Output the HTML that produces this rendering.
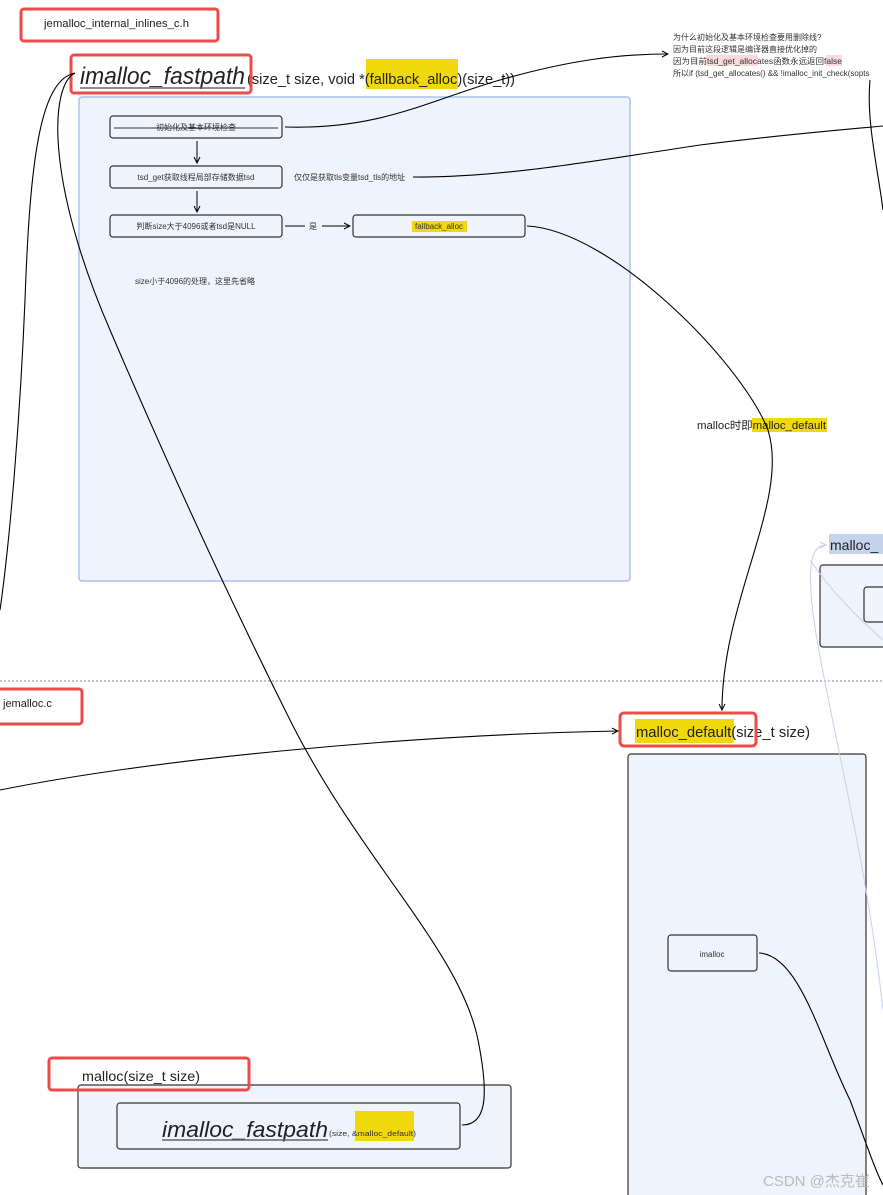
<!DOCTYPE html>
<html><head><meta charset="utf-8"><style>
html,body{margin:0;padding:0;background:#fff;}
svg{display:block;font-family:"Liberation Sans","Noto Sans CJK SC",sans-serif;}
</style></head><body>
<svg width="883" height="1195" viewBox="0 0 883 1195" xmlns="http://www.w3.org/2000/svg">
<defs>
<marker id="a" markerWidth="8" markerHeight="8" refX="7" refY="4" orient="auto" markerUnits="userSpaceOnUse"><path d="M1,1 L7,4 L1,7" fill="none" stroke="#000" stroke-width="1"/></marker>
<marker id="b" markerWidth="8" markerHeight="8" refX="7" refY="4" orient="auto" markerUnits="userSpaceOnUse"><path d="M1,1 L7,4 L1,7" fill="none" stroke="#c8cff0" stroke-width="1"/></marker>
</defs>
<!-- panels first -->
<rect x="79" y="97" width="551" height="484" rx="3" fill="#eef3fc" stroke="#a9c1ef" stroke-width="1.5"/>
<rect x="820" y="565" width="70" height="82" rx="3" fill="#eef3fc" stroke="#333" stroke-width="1.2"/>
<rect x="864" y="587" width="30" height="35" rx="3" fill="#eef3fc" stroke="#333" stroke-width="1.2"/>
<rect x="628" y="754" width="238" height="460" rx="3" fill="#eef3fc" stroke="#333" stroke-width="1.2"/>
<rect x="78" y="1085" width="433" height="83" rx="3" fill="#eef3fc" stroke="#333" stroke-width="1.2"/>

<!-- top file label -->
<rect x="21" y="9" width="197" height="32" rx="3" fill="none" stroke="#ef4a4a" stroke-width="3"/>
<text x="44" y="27" font-size="11" fill="#222" textLength="145" lengthAdjust="spacingAndGlyphs">jemalloc_internal_inlines_c.h</text>
<!-- title -->
<rect x="366" y="59" width="92" height="30" fill="#f0d80c"/>
<text x="80" y="84" font-size="24" font-style="italic" fill="#222" textLength="165" lengthAdjust="spacingAndGlyphs">imalloc_fastpath</text>
<line x1="80" y1="88" x2="245" y2="88" stroke="#666" stroke-width="1.5"/>
<text x="247" y="84" font-size="15" fill="#222" textLength="268" lengthAdjust="spacingAndGlyphs">(size_t size, void *(fallback_alloc)(size_t))</text>
<rect x="71" y="55" width="180" height="38" rx="3" fill="none" stroke="#ef4a4a" stroke-width="3"/>
<g fill="none" stroke="#333" stroke-width="1.2">
<rect x="110" y="116" width="172" height="22" rx="3"/>
<rect x="110" y="166" width="172" height="22" rx="3"/>
<rect x="110" y="215" width="172" height="22" rx="3"/>
<rect x="353" y="215" width="172" height="22" rx="3"/>
</g>
<g font-size="8" fill="#333" text-anchor="middle">
<text x="196" y="130">初始化及基本环境检查</text>
<text x="196" y="180">tsd_get获取线程局部存储数据tsd</text>
<text x="196" y="229">判断size大于4096或者tsd是NULL</text>
<rect x="412" y="221" width="55" height="11" fill="#f0d80c"/>
<text x="439" y="229">fallback_alloc</text>
</g>
<line x1="114" y1="128" x2="278" y2="128" stroke="#333"/>
<line x1="197" y1="141" x2="197" y2="163" stroke="#000" marker-end="url(#a)"/>
<line x1="197" y1="191" x2="197" y2="212" stroke="#000" marker-end="url(#a)"/>
<line x1="285" y1="226" x2="305" y2="226" stroke="#000"/>
<text x="309" y="229" font-size="8" fill="#333">是</text>
<line x1="322" y1="226" x2="350" y2="226" stroke="#000" marker-end="url(#a)"/>
<text x="294" y="180" font-size="8" fill="#333">仅仅是获取tls变量tsd_tls的地址</text>
<text x="135" y="284" font-size="8" fill="#333">size小于4096的处理，这里先省略</text>
<!-- note -->
<g font-size="8" fill="#333">
<text x="673" y="40">为什么初始化及基本环境检查要用删除线?</text>
<text x="673" y="52">因为目前这段逻辑是编译器直接优化掉的</text>
<rect x="706" y="55" width="52" height="11" fill="#f9dada"/>
<rect x="826" y="55" width="16" height="11" fill="#f9dada"/>
<text x="673" y="64" textLength="169" lengthAdjust="spacingAndGlyphs">因为目前tsd_get_allocates函数永远返回false</text>
<text x="673" y="76">所以if (tsd_get_allocates() &amp;&amp; !imalloc_init_check(sopts</text>
</g>
<rect x="752" y="418" width="75" height="14" fill="#f0d80c"/>
<text x="697" y="429" font-size="11" fill="#222" textLength="129" lengthAdjust="spacingAndGlyphs">malloc时即malloc_default</text>
<!-- right partial -->
<rect x="829" y="534" width="54" height="20" fill="#c5d3ec"/>
<text x="830" y="550" font-size="14" fill="#222">malloc_</text>
<!-- dotted divider -->
<line x1="0" y1="681" x2="883" y2="681" stroke="#888" stroke-dasharray="2,2"/>
<!-- jemalloc.c -->
<rect x="-5" y="689" width="87" height="35" rx="3" fill="none" stroke="#ef4a4a" stroke-width="3"/>
<text x="3" y="707" font-size="11" fill="#222">jemalloc.c</text>
<!-- malloc_default -->
<rect x="635" y="719" width="99" height="24" fill="#f0d80c"/>
<text x="636" y="737" font-size="15" fill="#222" textLength="174" lengthAdjust="spacingAndGlyphs">malloc_default(size_t size)</text>
<rect x="620" y="713" width="136" height="33" rx="4" fill="none" stroke="#ef4a4a" stroke-width="3"/>
<rect x="668" y="935" width="89" height="36" rx="3" fill="none" stroke="#333" stroke-width="1.2"/>
<text x="712" y="957" font-size="8" fill="#333" text-anchor="middle">imalloc</text>
<!-- malloc -->
<rect x="117" y="1103" width="343" height="46" rx="3" fill="none" stroke="#333" stroke-width="1.2"/>
<rect x="355" y="1111" width="59" height="30" fill="#f0d80c"/>
<text x="162" y="1137" font-size="22" font-style="italic" fill="#222" textLength="166" lengthAdjust="spacingAndGlyphs">imalloc_fastpath</text>
<line x1="162" y1="1140" x2="328" y2="1140" stroke="#666" stroke-width="1.5"/>
<text x="329" y="1136" font-size="7" fill="#333" textLength="87" lengthAdjust="spacingAndGlyphs">(size, &amp;malloc_default)</text>
<text x="82" y="1081" font-size="14" fill="#222" textLength="118" lengthAdjust="spacingAndGlyphs">malloc(size_t size)</text>
<rect x="49" y="1058" width="200" height="32" rx="3" fill="none" stroke="#ef4a4a" stroke-width="3"/>

<!-- connectors on top -->
<g fill="none" stroke="#c8cff0" stroke-width="1">
<path d="M883,1010 C860,800 800,620 812,560 C815,548 820,545 826,545" marker-end="url(#b)"/>
<path d="M810,560 C830,590 860,620 883,640"/>
</g>
<g fill="none" stroke="#000" stroke-width="1.1">
<path d="M285,127 C380,130 430,100 500,80 C570,60 620,54 668,54" marker-end="url(#a)"/>
<path d="M413,177 C500,178 600,160 700,145 C780,135 840,130 883,126"/>
<path d="M870,80 C866,120 878,170 883,210"/>
<path d="M527,226 C610,230 740,360 768,430 C790,500 722,600 722,710" marker-end="url(#a)"/>
<path d="M75,73 C40,80 30,160 25,300 C20,420 10,540 0,610"/>
<path d="M75,73 C50,85 45,180 110,330 C170,470 230,600 290,720 C360,860 460,950 478,1040 C490,1100 485,1125 462,1125"/>
<path d="M0,790 C150,760 400,735 618,731" marker-end="url(#a)"/>
<path d="M759,953 C800,955 820,1040 850,1100 C865,1140 875,1170 883,1185"/>
</g>
<text x="763" y="1186" font-size="15" fill="#bbb">CSDN @杰克崔</text>
</svg>
</body></html>
